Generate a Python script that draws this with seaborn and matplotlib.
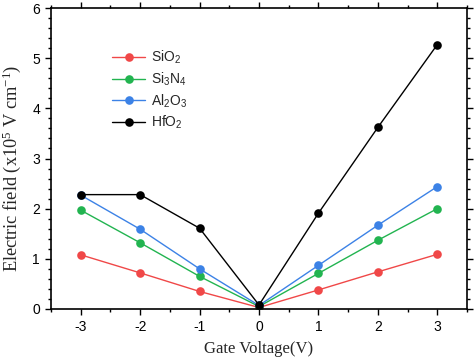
import matplotlib
matplotlib.use("Agg")
import matplotlib.pyplot as plt
import seaborn as sns
import pandas as pd
from matplotlib.ticker import MultipleLocator

gate_voltage = [-3, -2, -1, 0, 1, 2, 3]
sio2 = [1.08, 0.72, 0.35, 0.03, 0.38, 0.74, 1.09]
si3n4 = [1.97, 1.32, 0.65, 0.05, 0.71, 1.37, 2.00]
al2o3 = [2.27, 1.59, 0.80, 0.07, 0.87, 1.67, 2.44]
hfo2 = [2.28, 2.28, 1.61, 0.08, 1.91, 3.62, 5.27]
labels = ["SiO$\\mathregular{_2}$", "Si$\\mathregular{_3}$N$\\mathregular{_4}$",
          "Al$\\mathregular{_2}$O$\\mathregular{_3}$", "HfO$\\mathregular{_2}$"]
colors = ["#f04848", "#22b450", "#3c82e6", "#000000"]

rows = []
for lab, vals in zip(labels, [sio2, si3n4, al2o3, hfo2]):
    for x, y in zip(gate_voltage, vals):
        rows.append({"V": x, "E": y, "Material": lab})
df = pd.DataFrame(rows)

sns.set_style("ticks")
plt.rcParams["font.family"] = ["Liberation Sans", "DejaVu Sans"]
plt.rcParams["axes.unicode_minus"] = False

fig = plt.figure(figsize=(4.74, 3.58), dpi=100)
ax = fig.add_axes([51/474, 1-309/358, (467-51)/474, (309-8)/358])

sns.lineplot(data=df, x="V", y="E", hue="Material", hue_order=labels,
             palette=colors, marker="o", markersize=6.2, markeredgewidth=0,
             linewidth=1.0, ax=ax, legend=True)

ax.set_xlim(-3.5, 3.5)
ax.set_ylim(0, 6)
ax.xaxis.set_major_locator(MultipleLocator(1))
ax.xaxis.set_minor_locator(MultipleLocator(0.5))
ax.yaxis.set_major_locator(MultipleLocator(1))
ax.yaxis.set_minor_locator(MultipleLocator(0.2))
ax.tick_params(which="both", direction="out", top=True, right=True,
               labeltop=False, labelright=False, width=1.0, colors="black")
ax.tick_params(which="major", length=4, labelsize=10, pad=4)
ax.tick_params(which="minor", length=2)
for s in ax.spines.values():
    s.set_visible(True)
    s.set_linewidth(1.2)
    s.set_color("black")

ax.set_xlabel("Gate Voltage(V)", family=["Liberation Serif", "DejaVu Serif"],
              size=12, labelpad=5)
ax.set_ylabel("Electric field (x10$\\mathregular{^{5}}$ V cm$\\mathregular{^{-1}}$)",
              family=["Liberation Serif", "DejaVu Serif"], size=13.2)
ax.yaxis.set_label_coords(-0.068, 0.468)

leg = ax.legend(loc="upper left", bbox_to_anchor=(0.133, 0.882), frameon=False,
                fontsize=10, handlelength=2.4, handletextpad=0.4,
                labelspacing=0.3, borderaxespad=0)

fig.savefig("out.png", dpi=100)
